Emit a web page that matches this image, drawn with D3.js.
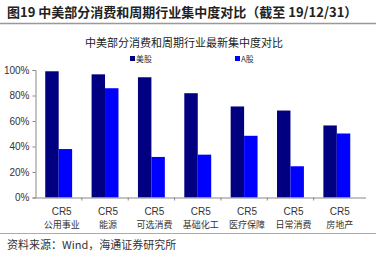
<!DOCTYPE html>
<html>
<head>
<meta charset="utf-8">
<script src="https://cdn.jsdelivr.net/npm/d3@7"></script>
<style>
body { margin: 0; background: #fff; }
svg { display: block; }
</style>
</head>
<body>
<svg width="376" height="256"></svg>
<script>
var industries = ["公用事业", "能源", "可选消费", "基础化工", "医疗保障", "日常消费", "房地产"]
var seriesNames = ["美股", "A股"]
var usValues = [0.99, 0.966, 0.943, 0.818, 0.714, 0.682, 0.565]
var aValues = [0.38, 0.857, 0.318, 0.336, 0.484, 0.245, 0.502]
var yTicks = [0, 0.2, 0.4, 0.6, 0.8, 1.0]
var colors = ["#000080", "#0000ff"]

var width = 376
var height = 256
var cjk = "'Noto Sans CJK SC', sans-serif"
var latin = "'Liberation Sans', Arial, sans-serif"

const svg = d3.select("svg")

// header
svg.append("text")
	.attr("x", 7).attr("y", 17)
	.style("font", "bold 13px " + cjk)
	.attr("fill", "#222")
	.text("图19 中美部分消费和周期行业集中度对比（截至 19/12/31）")
svg.append("line")
	.attr("x1", 0).attr("x2", width).attr("y1", 23.5).attr("y2", 23.5)
	.attr("stroke", "#999").attr("stroke-width", 1.5)

svg.append("text")
	.attr("x", 184).attr("y", 47)
	.attr("text-anchor", "middle")
	.style("font", "11px " + cjk)
	.attr("fill", "#222")
	.text("中美部分消费和周期行业最新集中度对比")

// legend
const legendX = [130, 235]
const legend = svg.append("g").selectAll("g")
	.data(seriesNames)
	.join("g")
	.attr("transform", (d, i) => `translate(${legendX[i]},59)`)
legend.append("rect")
	.attr("x", 0).attr("y", -3).attr("width", 5).attr("height", 5)
	.attr("fill", (d, i) => colors[i])
legend.append("text")
	.attr("x", 6).attr("y", 2.5)
	.style("font", "8px " + cjk)
	.attr("fill", "#333")
	.text(d => d)

// scales
const x = d3.scaleBand()
	.domain(industries)
	.range([35.5, 360])
	.paddingInner(0.42)
	.paddingOuter(0.21)
const xSub = d3.scaleBand()
	.domain(seriesNames)
	.range([0, x.bandwidth()])
const y = d3.scaleLinear()
	.domain([0, 1])
	.range([197.5, 70])

// bars
const group = svg.append("g").selectAll("g")
	.data(industries)
	.join("g")
	.attr("transform", d => `translate(${x(d)},0)`)

group.selectAll("rect")
	.data((d, i) => [usValues[i], aValues[i]].map((v, j) => ({key: seriesNames[j], value: v, idx: j})))
	.join("rect")
	.attr("x", d => xSub(d.key))
	.attr("width", xSub.bandwidth())
	.attr("y", d => y(d.value))
	.attr("height", d => y(0) - y(d.value))
	.attr("fill", d => colors[d.idx])

// y axis
const yAxis = svg.append("g")
	.attr("transform", "translate(35.5,0)")
	.call(d3.axisLeft(y).tickValues(yTicks).tickFormat(d3.format(".0%")).tickSize(3))
yAxis.select(".domain").attr("stroke", "#888")
yAxis.selectAll(".tick line").attr("stroke", "#888")
yAxis.selectAll("text")
	.style("font", "10px " + latin)
	.attr("fill", "#333")
	.attr("x", -6)

// x axis
const step = x.step()
svg.append("line")
	.attr("x1", 35.5).attr("x2", 366).attr("y1", y(0) + 0.5).attr("y2", y(0) + 0.5)
	.attr("stroke", "#888")
svg.append("g").selectAll("line")
	.data(industries.slice(1))
	.join("line")
	.attr("x1", d => x(d) - step * 0.21).attr("x2", d => x(d) - step * 0.21)
	.attr("y1", y(0)).attr("y2", y(0) + 3)
	.attr("stroke", "#888")

const xLabel = svg.append("g").selectAll("g")
	.data(industries)
	.join("g")
	.attr("transform", d => `translate(${x(d) + x.bandwidth() / 2 + 3},0)`)
	.attr("text-anchor", "middle")
xLabel.append("text")
	.attr("y", 215)
	.style("font", "10px " + latin)
	.attr("fill", "#333")
	.text("CR5")
xLabel.append("text")
	.attr("y", 228)
	.style("font", "9px " + cjk)
	.attr("fill", "#333")
	.text(d => d)

// footer
svg.append("line")
	.attr("x1", 0).attr("x2", width).attr("y1", 233.5).attr("y2", 233.5)
	.attr("stroke", "#aaa").attr("stroke-width", 1)
svg.append("text")
	.attr("x", 7).attr("y", 249)
	.style("font", "11px " + cjk)
	.attr("fill", "#333")
	.text("资料来源：Wind，海通证券研究所")
</script>
</body>
</html>
